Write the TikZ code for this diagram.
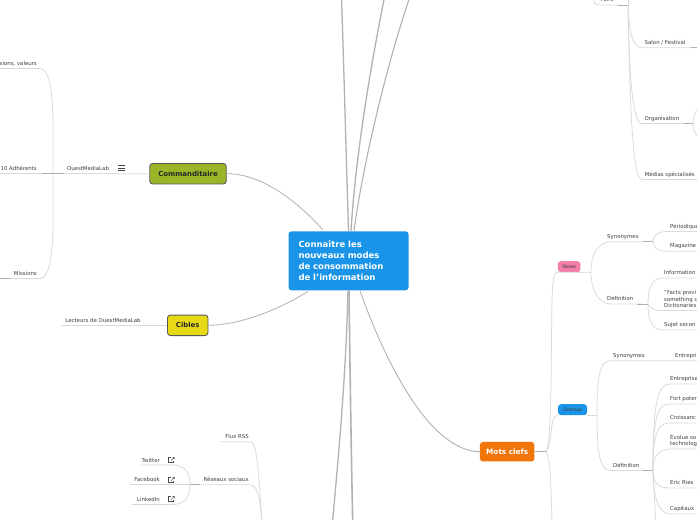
\documentclass[tikz,border=0pt]{standalone}
\usepackage{fontspec}
\setmainfont{DejaVu Sans}
\definecolor{mainline}{HTML}{B2B2B2}
\definecolor{subline}{HTML}{D9D9D9}
\definecolor{stubline}{HTML}{ADADAD}
\definecolor{lbl}{HTML}{3F3F3F}
\definecolor{cblue}{HTML}{1A94E8}
\definecolor{colive}{HTML}{9BB528}
\definecolor{cyellow}{HTML}{E8D916}
\definecolor{corange}{HTML}{F0760C}
\definecolor{cpink}{HTML}{F27EA9}
\tikzset{
  x=1pt,y=-1pt,
  lab/.style={font=\fontsize{5.4}{6.5}\selectfont,text=lbl,inner sep=0pt,align=left,yshift=-0.8pt},
  labr/.style={lab,anchor=east},
  labl/.style={lab,anchor=west},
  mainbr/.style={draw=mainline,line width=1pt},
  subbr/.style={draw=subline,line width=0.75pt},
  stub/.style={draw=stubline,line width=0.9pt},
  topic/.style={rounded corners=3pt,inner sep=0pt,align=center},
  maintopic/.style={topic,draw=black!65,line width=0.9pt,font=\bfseries\fontsize{6.9}{8}\selectfont,text=black!85},
  smalltopic/.style={topic,font=\fontsize{5}{6}\selectfont,text=black!75},
  iconln/.style={draw=black!70,line width=0.4pt}
}
\newcommand{\extlink}[1]{%
  \draw[iconln] ([shift={(2,-1.5)}]#1) -- ++(-2,0) -- ++(0,5) -- ++(5,0) -- ++(0,-2);
  \draw[iconln] ([shift={(2.6,1.8)}]#1) -- ++(3.2,-3.4) ++(-1.8,0) -- ++(1.8,0) -- ++(0,1.8);
}
\begin{document}
\begin{tikzpicture}
\useasboundingbox (0,0) rectangle (697,520);
\clip (0,0) rectangle (697,520);
\fill[white] (0,0) rectangle (697,520);

% main topics
\node[topic,fill=cblue,minimum width=120pt,minimum height=59pt,text width=100pt,text=white,
      font=\bfseries\fontsize{8.5}{11}\selectfont,align=left] (root) at (348.5,260.8)
  {Connaître les\\nouveaux modes\\de consommation\\de l'information};
\node[maintopic,fill=colive,minimum width=76.5pt,minimum height=20.5pt] (comm) at (188,173.7) {Commanditaire};
\node[maintopic,fill=cyellow,minimum width=40.5pt,minimum height=20.5pt,font=\bfseries\fontsize{6.9}{8}\selectfont] (cib) at (187.7,325.3) {Cibles};
\node[topic,fill=corange,minimum width=54.5pt,minimum height=19.5pt,text=white,font=\bfseries\fontsize{7.3}{8}\selectfont] (mots) at (507.2,451.7) {Mots clefs};
\node[smalltopic,fill=cpink,minimum width=22.5pt,minimum height=11pt] (news) at (569.2,266.7) {News};
\node[smalltopic,fill=cblue,minimum width=29pt,minimum height=11pt] (start) at (572.5,409.7) {Startup};

% free ends of main branches
\coordinate (t1) at (341.5,-2); \coordinate (t2) at (384.3,-2); \coordinate (t3) at (409.5,-2);
\coordinate (b1) at (332.5,522); \coordinate (b2) at (352.7,522);

\draw[mainbr,line width=1.3pt] (348.5,231) .. controls (346,150) and (344,70) .. (t1);
\draw[mainbr,line width=1.3pt] (351,231) .. controls (356,150) and (372,60) .. (t2);
\draw[mainbr,line width=1.1pt] (354,231) .. controls (362,170) and (385,70) .. (t3);
\draw[mainbr,line width=1.3pt] (348,290.5) .. controls (346,370) and (340,440) .. (b1);
\draw[mainbr,line width=1.6pt] (349,290.5) .. controls (350,370) and (351,440) .. (b2);
\draw[mainbr,line width=0.9pt] (360,291) .. controls (392,380) and (435,451) .. (mots.west);
\draw[mainbr,line width=0.8pt] (comm.east) .. controls (262,173.5) and (298,202) .. (323,230);
\draw[mainbr,line width=0.8pt] (cib.east) .. controls (240,325) and (278,310) .. (308,291.5);

% Commanditaire subtree
\coordinate (jc) at (53,173.5);
\node[lab] (omlab) at (88,168) {OuestMediaLab};
\node[labr] (valeurs) at (37,63) {sions, valeurs};
\node[labr] (adh) at (37,168) {10 Adhérents};
\node[labr] (miss) at (37,273) {Missions};
\coordinate (ov) at (0,68.5); \coordinate (oa) at (0,173.5); \coordinate (om) at (0,278.5);
\draw[subbr] (comm.west) -- (64,173.5);
\draw[stub] (64,173.5) -- (42,173.5);
\draw[subbr] (42,173.5) -- (oa);
\draw[subbr] (ov) -- (40,68.5) .. controls (50,68.5) and (53,95) .. (53,125) -- (jc);
\draw[subbr] (om) -- (40,278.5) .. controls (50,278.5) and (53,250) .. (53,222) -- (jc);
\draw[stub] (om) -- (10,278.5);
\foreach \yy in {165.5,168,170.5} \draw[draw=black!75,line width=0.4pt] (118,\yy) -- (124.5,\yy);

% Cibles subtree
\node[lab] (lect) at (103,319.6) {Lecteurs de OuestMediaLab};
\coordinate (lectend) at (61,325.3);
\draw[subbr] (cib.west) -- (lectend);

% Bottom-left subtree
\node[labr] (flux) at (249,436) {Flux RSS};
\node[labr] (res) at (249,479) {Réseaux sociaux};
\node[labr] (tw) at (160,460) {Twitter};
\node[labr] (fb) at (160,479) {Facebook};
\node[labr] (li) at (160,499) {LinkedIn};
\coordinate (fluxl) at (220,441.7); \coordinate (resl) at (200,484.7);
\coordinate (twl) at (141,465); \coordinate (fbl) at (130,484.7); \coordinate (lil) at (132,504.6);
\coordinate (jr) at (190,484.7); \coordinate (bsp) at (262,522);
\draw[subbr] (fluxl) -- (250,441.7) .. controls (257,441.7) and (258,465) .. (bsp);
\draw[subbr] (resl) -- (250,484.7) .. controls (258,484.7) and (260,500) .. (bsp);
\draw[stub] (jr) -- (200,484.7);
\draw[subbr] (twl) -- (172,465) .. controls (185,465) and (190,473) .. (jr);
\draw[subbr] (fbl) -- (jr);
\draw[subbr] (lil) -- (172,504.6) .. controls (185,504.6) and (190,497) .. (jr);
\extlink{168.5,459}
\extlink{168.5,479}
\extlink{168.5,498}

% Mots clefs spine
\coordinate (jm) at (546,451.7);
\coordinate (bm) at (552,522);
\draw[stub,line width=0.7pt] (mots.east) -- (jm);
\draw[subbr] (news.south east) -- (558,272.2) .. controls (552,272.2) and (552,285) .. (551.5,340) .. controls (551,390) and (551,440) .. (jm);
\draw[subbr] (start.south west) .. controls (549,415) and (553,445) .. (jm);
\draw[subbr] (jm) .. controls (551,460) and (551,490) .. (bm);

% News subtree
\coordinate (jn) at (591,272.2);
\node[labl] (ns) at (607,236) {Synonymes};
\node[labl] (nd) at (607,298) {Définition};
\draw[subbr] (news.south east) -- (jn);
\draw[subbr] (643,241.7) -- (612,241.7) .. controls (597,241.7) and (591,255) .. (jn);
\draw[subbr] (643,304) -- (612,304) .. controls (597,304) and (591,288) .. (jn);
\draw[stub] (643,241.7) -- (653,241.7);
\draw[stub] (637,304) -- (648,304);
\node[labl] (per) at (670,226) {Périodique};
\node[labl] (mag) at (670,245.5) {Magazine};
\draw[subbr] (699,231.5) -- (668,231.5) .. controls (658,231.5) and (653,235) .. (653,241.7);
\draw[subbr] (699,251.3) -- (668,251.3) .. controls (658,251.3) and (653,248) .. (653,241.7);
\node[labl] (inf) at (664,272) {Information};
\node[labl] (fac) at (664,298.5) {"Facts provi\\something c\\Dictionaries};
\node[labl] (suj) at (664,324) {Sujet secon};
\draw[subbr] (699,278) -- (662,278) .. controls (652,278) and (648,288) .. (648,304);
\draw[subbr] (699,310.5) -- (662,310.5) .. controls (654,310.5) and (650,308) .. (648,304);
\draw[subbr] (699,330) -- (662,330) .. controls (652,330) and (648,320) .. (648,304);

% Startup subtree
\coordinate (js) at (597,415.5);
\draw[subbr] (start.south east) -- (js);
\node[labl] (ss) at (613,355) {Synonymes};
\node[labl] (sd) at (613,465) {Définition};
\node[labl] (sent) at (675,355) {Entrepri};
\draw[subbr] (699,360.7) -- (611,360.7) .. controls (600,360.7) and (597,375) .. (js);
\draw[subbr] (643,470.5) -- (611,470.5) .. controls (600,470.5) and (597,455) .. (js);
\draw[stub] (643,470.5) -- (653,470.5);
\coordinate (jd) at (653,470.5);
\node[labl] (e1) at (670,378) {Entreprise};
\node[labl] (e2) at (670,398) {Fort poter};
\node[labl] (e3) at (670,417) {Croissanc};
\node[labl] (e4) at (670,440) {Évolue so\\technolog};
\node[labl] (e5) at (670,482) {Eric Ries};
\node[labl] (e6) at (670,508) {Capitaux};
\draw[subbr] (699,384) -- (670,384) .. controls (658,384) and (653,400) .. (jd);
\draw[subbr] (699,404) -- (670,404) .. controls (658,404) and (653,415) .. (jd);
\draw[subbr] (699,423) -- (670,423) .. controls (658,423) and (653,432) .. (jd);
\draw[subbr] (699,449) -- (670,449) .. controls (659,449) and (653,456) .. (jd);
\draw[subbr] (699,488) -- (670,488) .. controls (658,488) and (653,483) .. (jd);
\draw[subbr] (699,514) -- (670,514) .. controls (658,514) and (653,495) .. (jd);
\draw[subbr] (jd) .. controls (654,490) and (655,505) .. (655.5,522);

% Top right subtree
\coordinate (jt) at (628,5);
\node[labl] (foi) at (600.5,-1) {Foire};
\node[labl] (sal) at (644.5,42) {Salon / Festival};
\node[labl] (org) at (644.5,118) {Organisation};
\node[labl] (med) at (644.5,174) {Médias spécialisés};
\draw[subbr] (618,5) -- (598,5) .. controls (595,5) and (594,3) .. (593.5,-2);
\draw[stub] (618,5) -- (jt);
\draw[subbr] (628,-2) -- (jt);
\draw[subbr] (jt) .. controls (629,30) and (632,47.7) .. (642,47.7) -- (691,47.7);
\draw[stub] (691,47.7) -- (699,47.7);
\draw[subbr] (jt) .. controls (629,70) and (632,123.5) .. (642,123.5) -- (684,123.5);
\draw[stub] (684,123.5) -- (693,123.5);
\draw[subbr] (jt) .. controls (630,100) and (632,179.5) .. (642,179.5) -- (699,179.5);
\draw[subbr] (699,108) .. controls (695,111) and (693,117) .. (693,123.5) .. controls (693,130) and (695,134) .. (699,138);
\end{tikzpicture}
\end{document}
